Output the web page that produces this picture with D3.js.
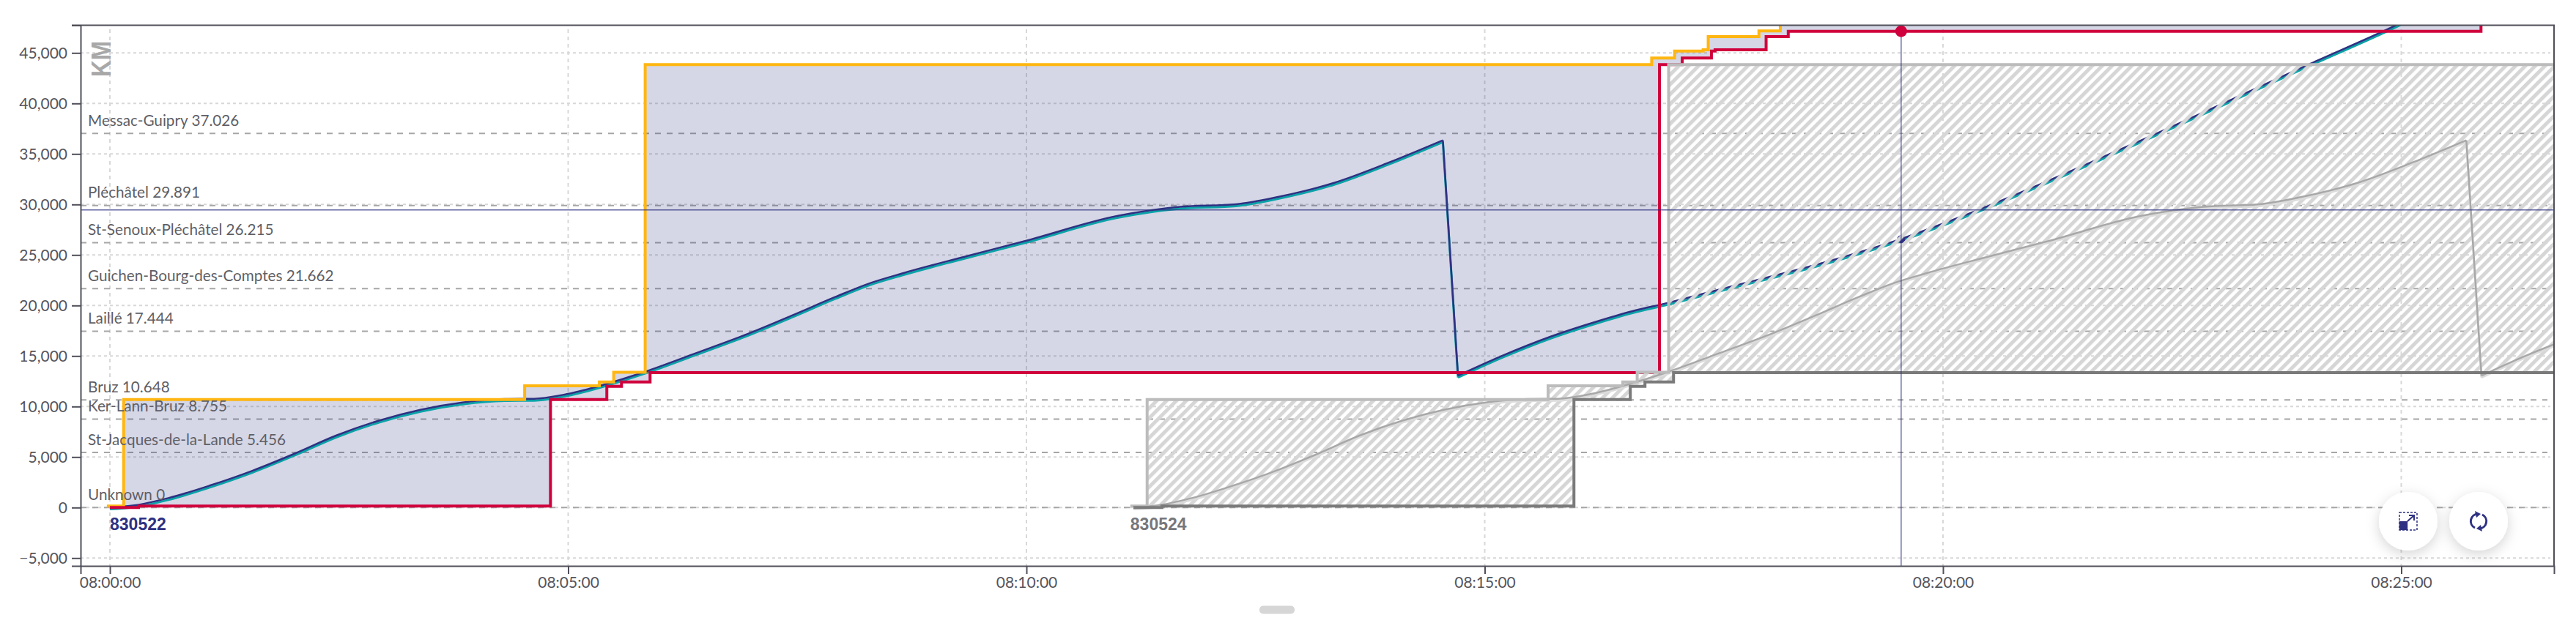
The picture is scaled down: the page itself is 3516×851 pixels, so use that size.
<!DOCTYPE html>
<html>
<head>
<meta charset="utf-8">
<style>
  html, body { margin: 0; padding: 0; background: #fff; }
  svg { display: block; }
  .tick text { font-family: Lato, sans-serif; font-size: 21px; fill: #55555c; }
</style>
<script src="https://cdn.jsdelivr.net/npm/d3@7"></script>
</head>
<body>
<div id="graph"></div>
<script>
const width = 3516;
const height = 851;

// seconds after 08:00:00 / metres
const stationNames = ["Unknown", "St-Jacques-de-la-Lande", "Ker-Lann-Bruz", "Bruz", "Laillé", "Guichen-Bourg-des-Comptes", "St-Senoux-Pléchâtel", "Pléchâtel", "Messac-Guipry"];
const stationKm = ["0", "5.456", "8.755", "10.648", "17.444", "21.662", "26.215", "29.891", "37.026"];
const timeTicks = [0, 300, 600, 900, 1200, 1500];
const kmTicks = [-5000, 0, 5000, 10000, 15000, 20000, 25000, 30000, 35000, 40000, 45000];

const upperOne = [[-2, 150], [9, 10690], [271.5, 12050], [320.4, 12430], [329.8, 13400], [350.4, 43840], [1009.3, 44490], [1024.3, 45190], [1043, 45310], [1046.3, 46620], [1079.5, 47170], [1093.5, 48500]];
const lowerOne = [[0, 0], [18.7, 150], [288.4, 10690], [325.3, 12000], [334.9, 12430], [353.6, 13355], [1014.4, 43840], [1029.3, 44490], [1048.4, 45190], [1050.8, 45310], [1084.2, 46620], [1098.7, 47145], [1552.2, 48500]];
const upperTwo = [[668, 150], [679, 10690], [941.5, 12050], [990.4, 12430], [999.8, 13400], [1020.4, 43840], [1620, 43840]];
const lowerTwo = [[670, 0], [688.7, 150], [958.4, 10690], [995.3, 12000], [1004.9, 12430], [1023.6, 13355], [1620, 13355]];

const runOneA = [[0, 0], [16, 200], [38.2, 915], [65.7, 2170], [93.2, 3620], [120.8, 5310], [148.3, 7120], [175.8, 8570], [203.3, 9660], [230.9, 10380], [258.5, 10720], [277.7, 10750], [299.8, 11230], [324.5, 12195], [350, 13410], [382, 15170], [414, 16960], [446, 18960], [474.8, 20820], [497.2, 22170], [519.5, 23190], [558, 24750], [599.5, 26380], [660, 28860], [700.5, 29750], [737.2, 30000], [764.7, 30720], [801.4, 32120], [838, 34170], [872.6, 36330]];
const runOneB = [[882.5, 13030], [911, 14970], [943.2, 16900], [975.2, 18480], [999, 19510], [1018, 20170], [1055, 21615], [1127, 24440], [1172.6, 26570], [1213.4, 28860], [1319, 35620], [1440.4, 43910], [1497, 47750], [1510, 48700]];
const runTwoA = [[670, 0], [686, 200], [708.2, 915], [735.7, 2170], [763.2, 3620], [790.8, 5310], [818.3, 7120], [845.8, 8570], [873.3, 9660], [900.9, 10380], [928.5, 10720], [947.7, 10750], [969.8, 11230], [994.5, 12195], [1020, 13410], [1052, 15170], [1084, 16960], [1116, 18960], [1144.8, 20820], [1167.2, 22170], [1189.5, 23190], [1228, 24750], [1269.5, 26380], [1330, 28860], [1370.5, 29750], [1407.2, 30000], [1434.7, 30720], [1471.4, 32120], [1508, 34170], [1542.6, 36330]];
const runTwoB = [[1552.5, 13030], [1581, 14970], [1613.2, 16900]];

const cursorTime = 1172.6;
const cursorKm = 29465;
const cursorPoint = [1172.6, 26570];
const trainNames = ["830522", "830524"];
const trainStart = [0, 668];

const navy = "#2e3182";
const teal = "#0aa3a8";

const x = d3.scaleLinear().domain([-19.2, 1600]).range([110, 3486]);
const y = d3.scaleLinear().domain([-5775, 47739]).range([773, 34.5]);

const svg = d3.select("#graph").append("svg").attr("width", width).attr("height", height);
const defs = svg.append("defs");

defs.append("clipPath").attr("id", "plot").append("rect")
  .attr("x", 110).attr("y", 34.5).attr("width", 3376).attr("height", 738.5);

const hatch = defs.append("pattern").attr("id", "hatch")
  .attr("patternUnits", "userSpaceOnUse").attr("width", 9.5).attr("height", 9.5)
  .attr("patternTransform", "rotate(45)");
hatch.append("rect").attr("width", 5).attr("height", 9.5).attr("fill", "#d6d6d6");

const shadow = defs.append("filter").attr("id", "shadow")
  .attr("x", "-50%").attr("y", "-50%").attr("width", "200%").attr("height", "200%");
shadow.append("feDropShadow").attr("dx", 0).attr("dy", 5).attr("stdDeviation", 9)
  .attr("flood-color", "#000").attr("flood-opacity", 0.17);

const plot = svg.append("g").attr("clip-path", "url(#plot)");

// grid
plot.append("g").selectAll("line").data(timeTicks).join("line")
  .attr("x1", d => x(d)).attr("x2", d => x(d)).attr("y1", 40).attr("y2", 773)
  .attr("stroke", "#d8d8d8").attr("stroke-width", 2).attr("stroke-dasharray", "5,5");

plot.append("g").selectAll("line").data(kmTicks).join("line")
  .attr("x1", 110).attr("x2", 3481).attr("y1", d => y(d)).attr("y2", d => y(d))
  .attr("stroke", "#d8d8d8").attr("stroke-width", 2).attr("stroke-dasharray", "4,4");

// stations
plot.append("g").selectAll("line").data(stationKm).join("line")
  .attr("x1", 110).attr("x2", 3477).attr("y1", d => y(+d * 1000)).attr("y2", d => y(+d * 1000))
  .attr("stroke", "#a6a6a6").attr("stroke-width", 2).attr("stroke-dasharray", "8,8");

svg.append("g").selectAll("text").data(stationNames).join("text")
  .attr("x", 120)
  .attr("y", (d, i) => y(+stationKm[i] * 1000) - 10.5)
  .attr("font-family", "Lato, sans-serif")
  .attr("font-size", 20.7)
  .attr("fill", "#5f5f66")
  .text((d, i) => `${d} ${stationKm[i]}`);

const lineLinear = d3.line().x(d => x(d[0])).y(d => y(d[1]));
const lineStep = d3.line().x(d => x(d[0])).y(d => y(d[1])).curve(d3.curveStepAfter);
const lineSmooth = d3.line().x(d => x(d[0])).y(d => y(d[1])).curve(d3.curveMonotoneX);

function corners(steps) {
  const out = [];
  steps.forEach((p, i) => {
    if (i > 0) out.push([p[0], steps[i - 1][1]]);
    out.push(p);
  });
  return out;
}

function closedBand(upper, lower) {
  return lineLinear(corners(upper).concat(corners(lower).reverse())) + "Z";
}

function drawRun(first, second, color, w, dy) {
  const g = plot.append("g").attr("transform", `translate(0,${dy})`)
    .attr("fill", "none").attr("stroke", color).attr("stroke-width", w);
  g.append("path").attr("d", lineSmooth(first));
  g.append("path").attr("d", lineLinear([first[first.length - 1], second[0]]));
  g.append("path").attr("d", lineSmooth(second));
}

// train 830522 envelope
plot.append("path")
  .attr("d", closedBand(upperOne.concat([[1552.2, 48500]]), lowerOne))
  .attr("fill", navy).attr("fill-opacity", 0.2);

drawRun(runOneA, runOneB, teal, 3, 2.2);
drawRun(runOneA, runOneB, navy, 2.5, -0.3);

plot.append("circle")
  .attr("cx", x(cursorPoint[0])).attr("cy", y(cursorPoint[1])).attr("r", 5.5)
  .attr("fill", navy);

plot.append("path").attr("d", lineStep(upperOne))
  .attr("fill", "none").attr("stroke", "#ffb612").attr("stroke-width", 4);
plot.append("path").attr("d", lineStep(lowerOne))
  .attr("fill", "none").attr("stroke", "#d0003c").attr("stroke-width", 4);

// train 830524 envelope
plot.append("path")
  .attr("d", closedBand(upperTwo, lowerTwo))
  .attr("fill", "url(#hatch)");

drawRun(runTwoA, runTwoB, "#dcdcdc", 3, 2.2);
drawRun(runTwoA, runTwoB, "#a8a8a8", 2.5, -0.3);

plot.append("path").attr("d", lineStep(upperTwo))
  .attr("fill", "none").attr("stroke", "#bcbcbc").attr("stroke-width", 4);
plot.append("path").attr("d", lineStep(lowerTwo))
  .attr("fill", "none").attr("stroke", "#7a7a7a").attr("stroke-width", 4);

// cursor
plot.append("line")
  .attr("x1", x(cursorTime)).attr("x2", x(cursorTime)).attr("y1", 34.5).attr("y2", 773)
  .attr("stroke", navy).attr("stroke-opacity", 0.5).attr("stroke-width", 2);
plot.append("line")
  .attr("x1", 110).attr("x2", 3486).attr("y1", y(cursorKm)).attr("y2", y(cursorKm))
  .attr("stroke", navy).attr("stroke-opacity", 0.75).attr("stroke-width", 1.5);
svg.append("circle")
  .attr("cx", x(cursorTime)).attr("cy", y(47145)).attr("r", 8)
  .attr("fill", "#d0003c");

// train labels
svg.append("g").selectAll("text").data(trainNames).join("text")
  .attr("x", (d, i) => x(trainStart[i]))
  .attr("y", 723.5)
  .attr("font-family", "Liberation Sans, sans-serif")
  .attr("font-weight", "bold")
  .attr("font-size", 23)
  .attr("fill", (d, i) => i === 0 ? navy : "#77777b")
  .text(d => d);

// KM title
svg.append("text")
  .attr("transform", "translate(151,105) rotate(-90)")
  .attr("font-family", "Liberation Sans, sans-serif")
  .attr("font-weight", "bold")
  .attr("font-size", 36)
  .attr("textLength", 49)
  .attr("lengthAdjust", "spacingAndGlyphs")
  .attr("fill", "#a8a8a8")
  .text("KM");

// axes
const base = Date.UTC(2020, 0, 1, 8, 0, 0);
const fmtTime = d3.utcFormat("%H:%M:%S");

const xAxis = svg.append("g")
  .attr("transform", "translate(0,773)")
  .call(d3.axisBottom(x).tickValues(timeTicks).tickSize(11).tickPadding(4)
    .tickFormat(d => fmtTime(new Date(base + d * 1000))));

const yAxis = svg.append("g")
  .attr("transform", "translate(110,0)")
  .call(d3.axisLeft(y).tickValues(kmTicks).tickSize(12).tickPadding(6)
    .tickFormat(d3.format(",")));

[xAxis, yAxis].forEach(a => {
  a.select("path.domain").attr("stroke", "#50505a").attr("stroke-width", 2);
  a.selectAll("line").attr("stroke", "#50505a").attr("stroke-width", 2);
  a.selectAll("text").attr("fill", "#55555c").attr("font-size", 21).attr("font-family", "Lato, sans-serif");
});

svg.append("line").attr("x1", 98).attr("x2", 3487).attr("y1", 34.5).attr("y2", 34.5)
  .attr("stroke", "#50505a").attr("stroke-width", 2);
svg.append("line").attr("x1", 3486).attr("x2", 3486).attr("y1", 34.5).attr("y2", 773)
  .attr("stroke", "#50505a").attr("stroke-width", 2);

// scroll handle
svg.append("rect")
  .attr("x", 1719).attr("y", 827.5).attr("width", 48).attr("height", 11).attr("rx", 5)
  .attr("fill", "#d6d6d6");

// buttons
const btnOne = svg.append("g").attr("transform", "translate(3287,712)");
btnOne.append("circle").attr("r", 40).attr("fill", "#fff").attr("filter", "url(#shadow)");
btnOne.append("rect").attr("x", -12.3).attr("y", 0).attr("width", 11.5).attr("height", 12).attr("fill", navy);
btnOne.append("rect").attr("x", -12).attr("y", -12).attr("width", 24).attr("height", 24)
  .attr("fill", "none").attr("stroke", navy).attr("stroke-width", 1.5).attr("stroke-dasharray", "3,2");
btnOne.append("path").attr("d", "M-1,0L8,-8M1,-8H8V-1")
  .attr("fill", "none").attr("stroke", navy).attr("stroke-width", 2);

const btnTwo = svg.append("g").attr("transform", "translate(3383,712)");
btnTwo.append("circle").attr("r", 40).attr("fill", "#fff").attr("filter", "url(#shadow)");
btnTwo.append("path")
  .attr("d", "M-5,9A10,10 0 0 1 -1,-10M5,-9A10,10 0 0 1 1,10")
  .attr("fill", "none").attr("stroke", navy).attr("stroke-width", 3);
btnTwo.append("path").attr("d", "M-5,-14L3,-10L-3,-5ZM5,14L-3,10L3,5Z").attr("fill", navy);
</script>
</body>
</html>
